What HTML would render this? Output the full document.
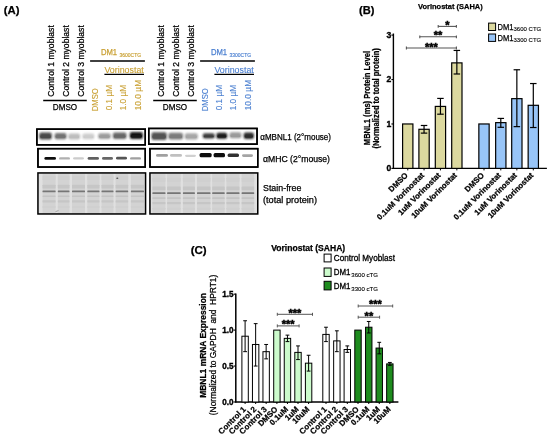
<!DOCTYPE html>
<html><head><meta charset="utf-8"><style>
html,body{margin:0;padding:0;background:#fff;width:550px;height:438px;overflow:hidden}
svg{display:block;font-family:'Liberation Sans', Arial, sans-serif}
</style></head><body>
<svg width="550" height="438" viewBox="0 0 550 438">
<defs>
<filter id="b1" x="-50%" y="-50%" width="200%" height="200%"><feGaussianBlur stdDeviation="0.75"/></filter>
<filter id="b2" x="-50%" y="-50%" width="200%" height="200%"><feGaussianBlur stdDeviation="0.5"/></filter>
<filter id="b3" x="-50%" y="-50%" width="200%" height="200%"><feGaussianBlur stdDeviation="0.6"/></filter>
<filter id="b4" x="-50%" y="-50%" width="200%" height="200%"><feGaussianBlur stdDeviation="1.1"/></filter>
</defs>
<rect width="550" height="438" fill="#fff"/>
<text x="3.80" y="14.20" font-size="11.8" font-weight="bold" fill="#000" color="#000" textLength="15.80" lengthAdjust="spacingAndGlyphs" stroke="currentColor" stroke-width="0.25">(A)</text>
<text x="0.00" y="0.00" transform="translate(53.80,96.80) rotate(-90)" font-size="9" fill="#000" color="#000" textLength="71.60" lengthAdjust="spacingAndGlyphs" stroke="currentColor" stroke-width="0.25">Control 1 myoblast</text>
<text x="0.00" y="0.00" transform="translate(68.80,96.80) rotate(-90)" font-size="9" fill="#000" color="#000" textLength="71.60" lengthAdjust="spacingAndGlyphs" stroke="currentColor" stroke-width="0.25">Control 2 myoblast</text>
<text x="0.00" y="0.00" transform="translate(83.70,96.80) rotate(-90)" font-size="9" fill="#000" color="#000" textLength="71.60" lengthAdjust="spacingAndGlyphs" stroke="currentColor" stroke-width="0.25">Control 3 myoblast</text>
<line x1="43.20" y1="100.50" x2="86.80" y2="100.50" stroke="#000" stroke-width="1.4"/>
<text x="52.80" y="110.00" font-size="9" fill="#000" color="#000" textLength="24.40" lengthAdjust="spacingAndGlyphs" stroke="currentColor" stroke-width="0.25">DMSO</text>
<text x="100.90" y="55.30" font-size="9.6" fill="#c9a033" color="#c9a033" textLength="16.20" lengthAdjust="spacingAndGlyphs" stroke="currentColor" stroke-width="0.25">DM1</text>
<text x="119.40" y="57.20" font-size="5.2" fill="#c9a033" color="#c9a033" textLength="21.80" lengthAdjust="spacingAndGlyphs" stroke="currentColor" stroke-width="0.15">3600CTG</text>
<line x1="90.10" y1="61.00" x2="144.90" y2="61.00" stroke="#000" stroke-width="1.4"/>
<text x="104.40" y="72.50" font-size="9.0" fill="#c9a033" color="#c9a033" textLength="39.40" lengthAdjust="spacingAndGlyphs" stroke="currentColor" stroke-width="0.12">Vorinostat</text>
<line x1="104.40" y1="74.40" x2="144.00" y2="74.40" stroke="#000" stroke-width="1.3"/>
<text x="0.00" y="0.00" transform="translate(98.20,111.30) rotate(-90)" font-size="9.3" fill="#c9a033" color="#c9a033" textLength="23.10" lengthAdjust="spacingAndGlyphs" stroke="currentColor" stroke-width="0.12">DMSO</text>
<text x="0.00" y="0.00" transform="translate(111.60,110.30) rotate(-90)" font-size="9" fill="#c9a033" color="#c9a033" textLength="25.40" lengthAdjust="spacingAndGlyphs" stroke="currentColor" stroke-width="0.12">0.1 µM</text>
<text x="0.00" y="0.00" transform="translate(126.10,110.30) rotate(-90)" font-size="9" fill="#c9a033" color="#c9a033" textLength="25.40" lengthAdjust="spacingAndGlyphs" stroke="currentColor" stroke-width="0.12">1.0 µM</text>
<text x="0.00" y="0.00" transform="translate(140.70,110.30) rotate(-90)" font-size="9" fill="#c9a033" color="#c9a033" textLength="30.50" lengthAdjust="spacingAndGlyphs" stroke="currentColor" stroke-width="0.12">10.0 µM</text>
<text x="0.00" y="0.00" transform="translate(163.80,96.80) rotate(-90)" font-size="9" fill="#000" color="#000" textLength="71.60" lengthAdjust="spacingAndGlyphs" stroke="currentColor" stroke-width="0.25">Control 1 myoblast</text>
<text x="0.00" y="0.00" transform="translate(178.80,96.80) rotate(-90)" font-size="9" fill="#000" color="#000" textLength="71.60" lengthAdjust="spacingAndGlyphs" stroke="currentColor" stroke-width="0.25">Control 2 myoblast</text>
<text x="0.00" y="0.00" transform="translate(193.70,96.80) rotate(-90)" font-size="9" fill="#000" color="#000" textLength="71.60" lengthAdjust="spacingAndGlyphs" stroke="currentColor" stroke-width="0.25">Control 3 myoblast</text>
<line x1="153.20" y1="100.50" x2="196.80" y2="100.50" stroke="#000" stroke-width="1.4"/>
<text x="162.80" y="110.00" font-size="9" fill="#000" color="#000" textLength="24.40" lengthAdjust="spacingAndGlyphs" stroke="currentColor" stroke-width="0.25">DMSO</text>
<text x="210.90" y="55.30" font-size="9.6" fill="#4a7fd0" color="#4a7fd0" textLength="16.20" lengthAdjust="spacingAndGlyphs" stroke="currentColor" stroke-width="0.25">DM1</text>
<text x="229.40" y="57.20" font-size="5.2" fill="#4a7fd0" color="#4a7fd0" textLength="21.80" lengthAdjust="spacingAndGlyphs" stroke="currentColor" stroke-width="0.15">3300CTG</text>
<line x1="200.10" y1="61.00" x2="254.90" y2="61.00" stroke="#000" stroke-width="1.4"/>
<text x="214.40" y="72.50" font-size="9.0" fill="#4a7fd0" color="#4a7fd0" textLength="39.40" lengthAdjust="spacingAndGlyphs" stroke="currentColor" stroke-width="0.12">Vorinostat</text>
<line x1="214.40" y1="74.40" x2="254.00" y2="74.40" stroke="#000" stroke-width="1.3"/>
<text x="0.00" y="0.00" transform="translate(208.20,111.30) rotate(-90)" font-size="9.3" fill="#4a7fd0" color="#4a7fd0" textLength="23.10" lengthAdjust="spacingAndGlyphs" stroke="currentColor" stroke-width="0.12">DMSO</text>
<text x="0.00" y="0.00" transform="translate(221.60,110.30) rotate(-90)" font-size="9" fill="#4a7fd0" color="#4a7fd0" textLength="25.40" lengthAdjust="spacingAndGlyphs" stroke="currentColor" stroke-width="0.12">0.1 µM</text>
<text x="0.00" y="0.00" transform="translate(236.10,110.30) rotate(-90)" font-size="9" fill="#4a7fd0" color="#4a7fd0" textLength="25.40" lengthAdjust="spacingAndGlyphs" stroke="currentColor" stroke-width="0.12">1.0 µM</text>
<text x="0.00" y="0.00" transform="translate(250.70,110.30) rotate(-90)" font-size="9" fill="#4a7fd0" color="#4a7fd0" textLength="30.50" lengthAdjust="spacingAndGlyphs" stroke="currentColor" stroke-width="0.12">10.0 µM</text>
<rect x="36.85" y="129.15" width="108.40" height="15.70" fill="#fff" stroke="#000" stroke-width="1.5"/>
<rect x="148.75" y="128.45" width="108.30" height="15.70" fill="#fff" stroke="#000" stroke-width="1.5"/>
<rect x="37.95" y="148.65" width="107.30" height="18.40" fill="#fff" stroke="#000" stroke-width="1.5"/>
<rect x="149.95" y="148.65" width="107.80" height="18.40" fill="#fff" stroke="#000" stroke-width="1.5"/>
<rect x="39.30" y="132.60" width="12.50" height="7.00" rx="2" fill="#4a4a4a" filter="url(#b4)"/>
<rect x="40.30" y="135.32" width="10.50" height="2.76" rx="1" fill="#4a4a4a" filter="url(#b1)"/>
<rect x="54.60" y="133.00" width="11.90" height="6.20" rx="2" fill="#727272" filter="url(#b4)"/>
<rect x="55.60" y="135.56" width="9.90" height="2.28" rx="1" fill="#727272" filter="url(#b1)"/>
<rect x="68.20" y="133.40" width="11.90" height="6.00" rx="2" fill="#bdbdbd" filter="url(#b4)"/>
<rect x="69.20" y="135.92" width="9.90" height="2.16" rx="1" fill="#bdbdbd" filter="url(#b1)"/>
<rect x="82.40" y="133.50" width="11.90" height="5.80" rx="2" fill="#cdcdcd" filter="url(#b4)"/>
<rect x="83.40" y="135.98" width="9.90" height="2.04" rx="1" fill="#cdcdcd" filter="url(#b1)"/>
<rect x="98.20" y="133.20" width="12.50" height="5.80" rx="2" fill="#9c9c9c" filter="url(#b4)"/>
<rect x="99.20" y="135.68" width="10.50" height="2.04" rx="1" fill="#9c9c9c" filter="url(#b1)"/>
<rect x="112.90" y="132.60" width="13.60" height="6.40" rx="2" fill="#686868" filter="url(#b4)"/>
<rect x="113.90" y="135.20" width="11.60" height="2.40" rx="1" fill="#686868" filter="url(#b1)"/>
<rect x="129.80" y="132.10" width="13.00" height="6.80" rx="2" fill="#141414" filter="url(#b4)"/>
<rect x="130.80" y="134.78" width="11.00" height="2.64" rx="1" fill="#141414" filter="url(#b1)"/>
<rect x="151.50" y="132.30" width="15.20" height="7.60" rx="2" fill="#525252" filter="url(#b4)"/>
<rect x="152.50" y="135.14" width="13.20" height="3.12" rx="1" fill="#525252" filter="url(#b1)"/>
<rect x="168.40" y="132.80" width="14.60" height="6.60" rx="2" fill="#7c7c7c" filter="url(#b4)"/>
<rect x="169.40" y="135.44" width="12.60" height="2.52" rx="1" fill="#7c7c7c" filter="url(#b1)"/>
<rect x="184.80" y="133.20" width="13.00" height="6.20" rx="2" fill="#a6a6a6" filter="url(#b4)"/>
<rect x="185.80" y="135.76" width="11.00" height="2.28" rx="1" fill="#a6a6a6" filter="url(#b1)"/>
<rect x="202.80" y="133.30" width="11.90" height="5.20" rx="2" fill="#3c3c3c" filter="url(#b4)"/>
<rect x="203.80" y="135.66" width="9.90" height="1.68" rx="1" fill="#3c3c3c" filter="url(#b1)"/>
<rect x="216.40" y="132.80" width="10.80" height="6.00" rx="2" fill="#1e1e1e" filter="url(#b4)"/>
<rect x="217.40" y="135.32" width="8.80" height="2.16" rx="1" fill="#1e1e1e" filter="url(#b1)"/>
<rect x="229.50" y="132.30" width="11.90" height="6.00" rx="2" fill="#9a9a9a" filter="url(#b4)"/>
<rect x="230.50" y="134.82" width="9.90" height="2.16" rx="1" fill="#9a9a9a" filter="url(#b1)"/>
<rect x="243.70" y="132.60" width="10.20" height="6.40" rx="2" fill="#2c2c2c" filter="url(#b4)"/>
<rect x="244.70" y="135.20" width="8.20" height="2.40" rx="1" fill="#2c2c2c" filter="url(#b1)"/>
<rect x="44.40" y="157.00" width="11.60" height="2.80" rx="1.5" fill="#0a0a0a" filter="url(#b3)"/>
<rect x="59.00" y="157.20" width="11.00" height="2.40" rx="1.5" fill="#b0b0b0" filter="url(#b3)"/>
<rect x="73.00" y="157.30" width="11.00" height="2.20" rx="1.5" fill="#cccccc" filter="url(#b3)"/>
<rect x="87.60" y="157.00" width="11.40" height="2.80" rx="1.5" fill="#606060" filter="url(#b3)"/>
<rect x="102.00" y="157.00" width="11.00" height="2.80" rx="1.5" fill="#666" filter="url(#b3)"/>
<rect x="116.00" y="156.80" width="11.00" height="2.80" rx="1.5" fill="#555" filter="url(#b3)"/>
<rect x="130.00" y="157.20" width="11.00" height="2.40" rx="1.5" fill="#a0a0a0" filter="url(#b3)"/>
<rect x="156.00" y="154.00" width="12.00" height="2.80" rx="1.5" fill="#a0a0a0" filter="url(#b3)"/>
<rect x="170.00" y="154.10" width="12.00" height="2.60" rx="1.5" fill="#c0c0c0" filter="url(#b3)"/>
<rect x="185.00" y="154.70" width="11.00" height="2.20" rx="1.5" fill="#d0d0d0" filter="url(#b3)"/>
<rect x="199.60" y="153.10" width="12.00" height="4.20" rx="1.5" fill="#0a0a0a" filter="url(#b3)"/>
<rect x="213.60" y="153.10" width="11.40" height="4.20" rx="1.5" fill="#101010" filter="url(#b3)"/>
<rect x="227.60" y="153.40" width="11.40" height="3.60" rx="1.5" fill="#333" filter="url(#b3)"/>
<rect x="242.00" y="154.30" width="11.00" height="2.60" rx="1.5" fill="#a4a4a4" filter="url(#b3)"/>
<rect x="36.85" y="129.15" width="108.40" height="15.70" fill="none" stroke="#000" stroke-width="1.5"/>
<rect x="148.75" y="128.45" width="108.30" height="15.70" fill="none" stroke="#000" stroke-width="1.5"/>
<rect x="37.95" y="148.65" width="107.30" height="18.40" fill="none" stroke="#000" stroke-width="1.5"/>
<rect x="149.95" y="148.65" width="107.80" height="18.40" fill="none" stroke="#000" stroke-width="1.5"/>
<rect x="37.20" y="172.20" width="109.10" height="42.50" fill="#e0e0e0"/>
<rect x="42.50" y="173.70" width="13.10" height="39.50" fill="#d3d3d3" filter="url(#b2)"/>
<rect x="42.50" y="176.00" width="13.10" height="4.00" rx="0.5" fill="#d0d0d0" filter="url(#b1)"/>
<rect x="42.50" y="184.80" width="13.10" height="3.60" rx="0.5" fill="#c6c6c6" filter="url(#b1)"/>
<rect x="42.50" y="190.45" width="13.10" height="1.70" rx="0.5" fill="#767676" filter="url(#b2)"/>
<rect x="42.50" y="195.50" width="13.10" height="1.60" rx="0.5" fill="#c4c4c4" filter="url(#b2)"/>
<rect x="42.50" y="200.20" width="13.10" height="2.20" rx="0.5" fill="#c6c6c6" filter="url(#b1)"/>
<rect x="42.50" y="206.00" width="13.10" height="2.00" rx="0.5" fill="#d0d0d0" filter="url(#b1)"/>
<rect x="57.80" y="173.70" width="11.70" height="39.50" fill="#d3d3d3" filter="url(#b2)"/>
<rect x="57.80" y="176.00" width="11.70" height="4.00" rx="0.5" fill="#d0d0d0" filter="url(#b1)"/>
<rect x="57.80" y="184.80" width="11.70" height="3.60" rx="0.5" fill="#c6c6c6" filter="url(#b1)"/>
<rect x="57.80" y="190.45" width="11.70" height="1.70" rx="0.5" fill="#767676" filter="url(#b2)"/>
<rect x="57.80" y="195.50" width="11.70" height="1.60" rx="0.5" fill="#c4c4c4" filter="url(#b2)"/>
<rect x="57.80" y="200.20" width="11.70" height="2.20" rx="0.5" fill="#c6c6c6" filter="url(#b1)"/>
<rect x="57.80" y="206.00" width="11.70" height="2.00" rx="0.5" fill="#d0d0d0" filter="url(#b1)"/>
<rect x="72.00" y="173.70" width="13.00" height="39.50" fill="#d3d3d3" filter="url(#b2)"/>
<rect x="72.00" y="176.00" width="13.00" height="4.00" rx="0.5" fill="#d0d0d0" filter="url(#b1)"/>
<rect x="72.00" y="184.80" width="13.00" height="3.60" rx="0.5" fill="#c6c6c6" filter="url(#b1)"/>
<rect x="72.00" y="190.45" width="13.00" height="1.70" rx="0.5" fill="#767676" filter="url(#b2)"/>
<rect x="72.00" y="195.50" width="13.00" height="1.60" rx="0.5" fill="#c4c4c4" filter="url(#b2)"/>
<rect x="72.00" y="200.20" width="13.00" height="2.20" rx="0.5" fill="#c6c6c6" filter="url(#b1)"/>
<rect x="72.00" y="206.00" width="13.00" height="2.00" rx="0.5" fill="#d0d0d0" filter="url(#b1)"/>
<rect x="87.30" y="173.70" width="12.20" height="39.50" fill="#d3d3d3" filter="url(#b2)"/>
<rect x="87.30" y="176.00" width="12.20" height="4.00" rx="0.5" fill="#d0d0d0" filter="url(#b1)"/>
<rect x="87.30" y="184.80" width="12.20" height="3.60" rx="0.5" fill="#c6c6c6" filter="url(#b1)"/>
<rect x="87.30" y="190.45" width="12.20" height="1.70" rx="0.5" fill="#767676" filter="url(#b2)"/>
<rect x="87.30" y="195.50" width="12.20" height="1.60" rx="0.5" fill="#c4c4c4" filter="url(#b2)"/>
<rect x="87.30" y="200.20" width="12.20" height="2.20" rx="0.5" fill="#c6c6c6" filter="url(#b1)"/>
<rect x="87.30" y="206.00" width="12.20" height="2.00" rx="0.5" fill="#d0d0d0" filter="url(#b1)"/>
<rect x="101.50" y="173.70" width="12.00" height="39.50" fill="#d3d3d3" filter="url(#b2)"/>
<rect x="101.50" y="176.00" width="12.00" height="4.00" rx="0.5" fill="#d0d0d0" filter="url(#b1)"/>
<rect x="101.50" y="184.80" width="12.00" height="3.60" rx="0.5" fill="#c6c6c6" filter="url(#b1)"/>
<rect x="101.50" y="190.45" width="12.00" height="1.70" rx="0.5" fill="#767676" filter="url(#b2)"/>
<rect x="101.50" y="195.50" width="12.00" height="1.60" rx="0.5" fill="#c4c4c4" filter="url(#b2)"/>
<rect x="101.50" y="200.20" width="12.00" height="2.20" rx="0.5" fill="#c6c6c6" filter="url(#b1)"/>
<rect x="101.50" y="206.00" width="12.00" height="2.00" rx="0.5" fill="#d0d0d0" filter="url(#b1)"/>
<rect x="115.60" y="173.70" width="12.60" height="39.50" fill="#d3d3d3" filter="url(#b2)"/>
<rect x="115.60" y="176.00" width="12.60" height="4.00" rx="0.5" fill="#d0d0d0" filter="url(#b1)"/>
<rect x="115.60" y="184.80" width="12.60" height="3.60" rx="0.5" fill="#c6c6c6" filter="url(#b1)"/>
<rect x="115.60" y="190.45" width="12.60" height="1.70" rx="0.5" fill="#767676" filter="url(#b2)"/>
<rect x="115.60" y="195.50" width="12.60" height="1.60" rx="0.5" fill="#c4c4c4" filter="url(#b2)"/>
<rect x="115.60" y="200.20" width="12.60" height="2.20" rx="0.5" fill="#c6c6c6" filter="url(#b1)"/>
<rect x="115.60" y="206.00" width="12.60" height="2.00" rx="0.5" fill="#d0d0d0" filter="url(#b1)"/>
<rect x="130.90" y="173.70" width="13.10" height="39.50" fill="#d3d3d3" filter="url(#b2)"/>
<rect x="130.90" y="176.00" width="13.10" height="4.00" rx="0.5" fill="#d0d0d0" filter="url(#b1)"/>
<rect x="130.90" y="184.80" width="13.10" height="3.60" rx="0.5" fill="#c6c6c6" filter="url(#b1)"/>
<rect x="130.90" y="190.45" width="13.10" height="1.70" rx="0.5" fill="#767676" filter="url(#b2)"/>
<rect x="130.90" y="195.50" width="13.10" height="1.60" rx="0.5" fill="#c4c4c4" filter="url(#b2)"/>
<rect x="130.90" y="200.20" width="13.10" height="2.20" rx="0.5" fill="#c6c6c6" filter="url(#b1)"/>
<rect x="130.90" y="206.00" width="13.10" height="2.00" rx="0.5" fill="#d0d0d0" filter="url(#b1)"/>
<rect x="37.95" y="172.95" width="107.60" height="41.00" fill="none" stroke="#000" stroke-width="1.5"/>
<rect x="149.20" y="172.20" width="109.30" height="42.50" fill="#e0e0e0"/>
<rect x="152.40" y="173.70" width="13.10" height="39.50" fill="#d3d3d3" filter="url(#b2)"/>
<rect x="152.40" y="177.80" width="13.10" height="4.00" rx="0.5" fill="#d0d0d0" filter="url(#b1)"/>
<rect x="152.40" y="186.60" width="13.10" height="3.60" rx="0.5" fill="#c6c6c6" filter="url(#b1)"/>
<rect x="152.40" y="192.25" width="13.10" height="1.70" rx="0.5" fill="#767676" filter="url(#b2)"/>
<rect x="152.40" y="197.30" width="13.10" height="1.60" rx="0.5" fill="#c4c4c4" filter="url(#b2)"/>
<rect x="152.40" y="202.00" width="13.10" height="2.20" rx="0.5" fill="#c6c6c6" filter="url(#b1)"/>
<rect x="152.40" y="207.80" width="13.10" height="2.00" rx="0.5" fill="#d0d0d0" filter="url(#b1)"/>
<rect x="167.10" y="173.70" width="13.60" height="39.50" fill="#d3d3d3" filter="url(#b2)"/>
<rect x="167.10" y="177.80" width="13.60" height="4.00" rx="0.5" fill="#d0d0d0" filter="url(#b1)"/>
<rect x="167.10" y="186.60" width="13.60" height="3.60" rx="0.5" fill="#c6c6c6" filter="url(#b1)"/>
<rect x="167.10" y="192.25" width="13.60" height="1.70" rx="0.5" fill="#767676" filter="url(#b2)"/>
<rect x="167.10" y="197.30" width="13.60" height="1.60" rx="0.5" fill="#c4c4c4" filter="url(#b2)"/>
<rect x="167.10" y="202.00" width="13.60" height="2.20" rx="0.5" fill="#c6c6c6" filter="url(#b1)"/>
<rect x="167.10" y="207.80" width="13.60" height="2.00" rx="0.5" fill="#d0d0d0" filter="url(#b1)"/>
<rect x="182.90" y="173.70" width="12.00" height="39.50" fill="#d3d3d3" filter="url(#b2)"/>
<rect x="182.90" y="177.80" width="12.00" height="4.00" rx="0.5" fill="#d0d0d0" filter="url(#b1)"/>
<rect x="182.90" y="186.60" width="12.00" height="3.60" rx="0.5" fill="#c6c6c6" filter="url(#b1)"/>
<rect x="182.90" y="192.25" width="12.00" height="1.70" rx="0.5" fill="#767676" filter="url(#b2)"/>
<rect x="182.90" y="197.30" width="12.00" height="1.60" rx="0.5" fill="#c4c4c4" filter="url(#b2)"/>
<rect x="182.90" y="202.00" width="12.00" height="2.20" rx="0.5" fill="#c6c6c6" filter="url(#b1)"/>
<rect x="182.90" y="207.80" width="12.00" height="2.00" rx="0.5" fill="#d0d0d0" filter="url(#b1)"/>
<rect x="197.00" y="173.70" width="13.50" height="39.50" fill="#d3d3d3" filter="url(#b2)"/>
<rect x="197.00" y="177.80" width="13.50" height="4.00" rx="0.5" fill="#d0d0d0" filter="url(#b1)"/>
<rect x="197.00" y="186.60" width="13.50" height="3.60" rx="0.5" fill="#c6c6c6" filter="url(#b1)"/>
<rect x="197.00" y="192.25" width="13.50" height="1.70" rx="0.5" fill="#767676" filter="url(#b2)"/>
<rect x="197.00" y="197.30" width="13.50" height="1.60" rx="0.5" fill="#c4c4c4" filter="url(#b2)"/>
<rect x="197.00" y="202.00" width="13.50" height="2.20" rx="0.5" fill="#c6c6c6" filter="url(#b1)"/>
<rect x="197.00" y="207.80" width="13.50" height="2.00" rx="0.5" fill="#d0d0d0" filter="url(#b1)"/>
<rect x="212.20" y="173.70" width="12.50" height="39.50" fill="#d3d3d3" filter="url(#b2)"/>
<rect x="212.20" y="177.80" width="12.50" height="4.00" rx="0.5" fill="#d0d0d0" filter="url(#b1)"/>
<rect x="212.20" y="186.60" width="12.50" height="3.60" rx="0.5" fill="#c6c6c6" filter="url(#b1)"/>
<rect x="212.20" y="192.25" width="12.50" height="1.70" rx="0.5" fill="#767676" filter="url(#b2)"/>
<rect x="212.20" y="197.30" width="12.50" height="1.60" rx="0.5" fill="#c4c4c4" filter="url(#b2)"/>
<rect x="212.20" y="202.00" width="12.50" height="2.20" rx="0.5" fill="#c6c6c6" filter="url(#b1)"/>
<rect x="212.20" y="207.80" width="12.50" height="2.00" rx="0.5" fill="#d0d0d0" filter="url(#b1)"/>
<rect x="226.40" y="173.70" width="13.10" height="39.50" fill="#d3d3d3" filter="url(#b2)"/>
<rect x="226.40" y="177.80" width="13.10" height="4.00" rx="0.5" fill="#d0d0d0" filter="url(#b1)"/>
<rect x="226.40" y="186.60" width="13.10" height="3.60" rx="0.5" fill="#c6c6c6" filter="url(#b1)"/>
<rect x="226.40" y="192.25" width="13.10" height="1.70" rx="0.5" fill="#767676" filter="url(#b2)"/>
<rect x="226.40" y="197.30" width="13.10" height="1.60" rx="0.5" fill="#c4c4c4" filter="url(#b2)"/>
<rect x="226.40" y="202.00" width="13.10" height="2.20" rx="0.5" fill="#c6c6c6" filter="url(#b1)"/>
<rect x="226.40" y="207.80" width="13.10" height="2.00" rx="0.5" fill="#d0d0d0" filter="url(#b1)"/>
<rect x="241.60" y="173.70" width="12.60" height="39.50" fill="#d3d3d3" filter="url(#b2)"/>
<rect x="241.60" y="177.80" width="12.60" height="4.00" rx="0.5" fill="#d0d0d0" filter="url(#b1)"/>
<rect x="241.60" y="186.60" width="12.60" height="3.60" rx="0.5" fill="#c6c6c6" filter="url(#b1)"/>
<rect x="241.60" y="192.25" width="12.60" height="1.70" rx="0.5" fill="#767676" filter="url(#b2)"/>
<rect x="241.60" y="197.30" width="12.60" height="1.60" rx="0.5" fill="#c4c4c4" filter="url(#b2)"/>
<rect x="241.60" y="202.00" width="12.60" height="2.20" rx="0.5" fill="#c6c6c6" filter="url(#b1)"/>
<rect x="241.60" y="207.80" width="12.60" height="2.00" rx="0.5" fill="#d0d0d0" filter="url(#b1)"/>
<rect x="149.95" y="172.95" width="107.80" height="41.00" fill="none" stroke="#000" stroke-width="1.5"/>
<ellipse cx="117.3" cy="178.3" rx="1.1" ry="0.7" fill="#555" filter="url(#b2)"/>
<line x1="55.5" y1="211.6" x2="58.5" y2="210.6" stroke="#888" stroke-width="0.7"/>
<text x="260.30" y="140.00" font-size="8.4" fill="#000" color="#000" textLength="70.70" lengthAdjust="spacingAndGlyphs" stroke="currentColor" stroke-width="0.25">αMBNL1 (2°mouse)</text>
<text x="263.00" y="162.40" font-size="8.4" fill="#000" color="#000" textLength="67.00" lengthAdjust="spacingAndGlyphs" stroke="currentColor" stroke-width="0.25">αMHC (2°mouse)</text>
<text x="263.00" y="191.00" font-size="8.6" fill="#000" color="#000" textLength="38.40" lengthAdjust="spacingAndGlyphs" stroke="currentColor" stroke-width="0.25">Stain-free</text>
<text x="263.00" y="202.50" font-size="8.6" fill="#000" color="#000" textLength="54.00" lengthAdjust="spacingAndGlyphs" stroke="currentColor" stroke-width="0.25">(total protein)</text>
<text x="359.00" y="14.20" font-size="11.5" font-weight="bold" fill="#000" color="#000" textLength="15.40" lengthAdjust="spacingAndGlyphs" stroke="currentColor" stroke-width="0.25">(B)</text>
<text x="418.00" y="9.40" font-size="8.0" font-weight="bold" fill="#000" color="#000" textLength="64.70" lengthAdjust="spacingAndGlyphs" stroke="currentColor" stroke-width="0.25">Vorinostat (SAHA)</text>
<line x1="393.40" y1="33.50" x2="393.40" y2="169.00" stroke="#000" stroke-width="1.4"/>
<line x1="392.80" y1="168.40" x2="546.90" y2="168.40" stroke="#000" stroke-width="1.4"/>
<line x1="391.40" y1="168.40" x2="393.40" y2="168.40" stroke="#000" stroke-width="1.1"/>
<text x="391.30" y="171.30" font-size="8.6" font-weight="bold" fill="#000" color="#000" text-anchor="end" stroke="#000" stroke-width="0.35">0</text>
<line x1="391.40" y1="123.97" x2="393.40" y2="123.97" stroke="#000" stroke-width="1.1"/>
<text x="391.30" y="126.87" font-size="8.6" font-weight="bold" fill="#000" color="#000" text-anchor="end" stroke="#000" stroke-width="0.35">1</text>
<line x1="391.40" y1="79.54" x2="393.40" y2="79.54" stroke="#000" stroke-width="1.1"/>
<text x="391.30" y="82.44" font-size="8.6" font-weight="bold" fill="#000" color="#000" text-anchor="end" stroke="#000" stroke-width="0.35">2</text>
<line x1="391.40" y1="35.11" x2="393.40" y2="35.11" stroke="#000" stroke-width="1.1"/>
<text x="391.30" y="38.01" font-size="8.6" font-weight="bold" fill="#000" color="#000" text-anchor="end" stroke="#000" stroke-width="0.35">3</text>
<rect x="402.60" y="123.97" width="10.30" height="44.43" fill="#dcd99f" stroke="#000" stroke-width="1.2"/>
<line x1="407.75" y1="168.40" x2="407.75" y2="170.40" stroke="#000" stroke-width="1.0"/>
<rect x="418.90" y="129.30" width="10.30" height="39.10" fill="#dcd99f" stroke="#000" stroke-width="1.2"/>
<line x1="424.05" y1="125.48" x2="424.05" y2="133.12" stroke="#000" stroke-width="1.2"/>
<line x1="420.80" y1="125.48" x2="427.30" y2="125.48" stroke="#000" stroke-width="1.2"/>
<line x1="420.80" y1="133.12" x2="427.30" y2="133.12" stroke="#000" stroke-width="1.2"/>
<line x1="424.05" y1="168.40" x2="424.05" y2="170.40" stroke="#000" stroke-width="1.0"/>
<rect x="435.30" y="106.42" width="10.30" height="61.98" fill="#dcd99f" stroke="#000" stroke-width="1.2"/>
<line x1="440.45" y1="98.42" x2="440.45" y2="114.20" stroke="#000" stroke-width="1.2"/>
<line x1="437.20" y1="98.42" x2="443.70" y2="98.42" stroke="#000" stroke-width="1.2"/>
<line x1="437.20" y1="114.20" x2="443.70" y2="114.20" stroke="#000" stroke-width="1.2"/>
<line x1="440.45" y1="168.40" x2="440.45" y2="170.40" stroke="#000" stroke-width="1.0"/>
<rect x="451.70" y="62.88" width="10.30" height="105.52" fill="#dcd99f" stroke="#000" stroke-width="1.2"/>
<line x1="456.85" y1="50.44" x2="456.85" y2="73.99" stroke="#000" stroke-width="1.2"/>
<line x1="453.60" y1="50.44" x2="460.10" y2="50.44" stroke="#000" stroke-width="1.2"/>
<line x1="453.60" y1="73.99" x2="460.10" y2="73.99" stroke="#000" stroke-width="1.2"/>
<line x1="456.85" y1="168.40" x2="456.85" y2="170.40" stroke="#000" stroke-width="1.0"/>
<rect x="478.85" y="123.97" width="10.30" height="44.43" fill="#98c5f8" stroke="#000" stroke-width="1.2"/>
<line x1="484.00" y1="168.40" x2="484.00" y2="170.40" stroke="#000" stroke-width="1.0"/>
<rect x="495.65" y="122.64" width="10.30" height="45.76" fill="#98c5f8" stroke="#000" stroke-width="1.2"/>
<line x1="500.80" y1="118.42" x2="500.80" y2="127.30" stroke="#000" stroke-width="1.2"/>
<line x1="497.55" y1="118.42" x2="504.05" y2="118.42" stroke="#000" stroke-width="1.2"/>
<line x1="497.55" y1="127.30" x2="504.05" y2="127.30" stroke="#000" stroke-width="1.2"/>
<line x1="500.80" y1="168.40" x2="500.80" y2="170.40" stroke="#000" stroke-width="1.0"/>
<rect x="511.70" y="98.64" width="10.30" height="69.76" fill="#98c5f8" stroke="#000" stroke-width="1.2"/>
<line x1="516.85" y1="69.77" x2="516.85" y2="126.64" stroke="#000" stroke-width="1.2"/>
<line x1="513.60" y1="69.77" x2="520.10" y2="69.77" stroke="#000" stroke-width="1.2"/>
<line x1="513.60" y1="126.64" x2="520.10" y2="126.64" stroke="#000" stroke-width="1.2"/>
<line x1="516.85" y1="168.40" x2="516.85" y2="170.40" stroke="#000" stroke-width="1.0"/>
<rect x="528.15" y="105.31" width="10.30" height="63.09" fill="#98c5f8" stroke="#000" stroke-width="1.2"/>
<line x1="533.30" y1="83.54" x2="533.30" y2="127.52" stroke="#000" stroke-width="1.2"/>
<line x1="530.05" y1="83.54" x2="536.55" y2="83.54" stroke="#000" stroke-width="1.2"/>
<line x1="530.05" y1="127.52" x2="536.55" y2="127.52" stroke="#000" stroke-width="1.2"/>
<line x1="533.30" y1="168.40" x2="533.30" y2="170.40" stroke="#000" stroke-width="1.0"/>
<line x1="438.20" y1="26.40" x2="456.40" y2="26.40" stroke="#555" stroke-width="1.1"/>
<line x1="438.20" y1="25.00" x2="438.20" y2="27.80" stroke="#555" stroke-width="1.1"/>
<line x1="456.40" y1="25.00" x2="456.40" y2="27.80" stroke="#555" stroke-width="1.1"/>
<text x="447.30" y="29.30" font-size="11" font-weight="bold" fill="#000" color="#000" text-anchor="middle" stroke="#000" stroke-width="0.5">*</text>
<line x1="419.80" y1="36.80" x2="456.40" y2="36.80" stroke="#555" stroke-width="1.1"/>
<line x1="419.80" y1="35.40" x2="419.80" y2="38.20" stroke="#555" stroke-width="1.1"/>
<line x1="456.40" y1="35.40" x2="456.40" y2="38.20" stroke="#555" stroke-width="1.1"/>
<text x="438.10" y="39.40" font-size="11" font-weight="bold" fill="#000" color="#000" text-anchor="middle" stroke="#000" stroke-width="0.5">**</text>
<line x1="406.40" y1="48.00" x2="456.40" y2="48.00" stroke="#555" stroke-width="1.1"/>
<line x1="406.40" y1="46.60" x2="406.40" y2="49.40" stroke="#555" stroke-width="1.1"/>
<line x1="456.40" y1="46.60" x2="456.40" y2="49.40" stroke="#555" stroke-width="1.1"/>
<text x="431.40" y="50.80" font-size="11" font-weight="bold" fill="#000" color="#000" text-anchor="middle" stroke="#000" stroke-width="0.5">***</text>
<rect x="488.60" y="23.10" width="7.00" height="7.40" fill="#dcd99f" stroke="#000" stroke-width="1.0"/>
<rect x="488.60" y="34.00" width="7.00" height="7.40" fill="#98c5f8" stroke="#000" stroke-width="1.0"/>
<text x="497.60" y="29.60" font-size="9.2" fill="#000" color="#000" textLength="15.90" lengthAdjust="spacingAndGlyphs" stroke="currentColor" stroke-width="0.25">DM1</text>
<text x="513.50" y="30.70" font-size="6.2" fill="#000" color="#000" textLength="27.80" lengthAdjust="spacingAndGlyphs" stroke="currentColor" stroke-width="0.12">3600 CTG</text>
<text x="497.60" y="40.90" font-size="9.2" fill="#000" color="#000" textLength="15.90" lengthAdjust="spacingAndGlyphs" stroke="currentColor" stroke-width="0.25">DM1</text>
<text x="513.50" y="42.00" font-size="6.2" fill="#000" color="#000" textLength="27.80" lengthAdjust="spacingAndGlyphs" stroke="currentColor" stroke-width="0.12">3300 CTG</text>
<text x="0.00" y="0.00" transform="translate(370.00,145.20) rotate(-90)" font-size="8.4" font-weight="bold" fill="#000" color="#000" textLength="94.20" lengthAdjust="spacingAndGlyphs" stroke="currentColor" stroke-width="0.25">MBNL1 (ms) Protein Level</text>
<text x="0.00" y="0.00" transform="translate(378.60,148.60) rotate(-90)" font-size="8.6" font-weight="bold" fill="#000" color="#000" textLength="100.40" lengthAdjust="spacingAndGlyphs" stroke="currentColor" stroke-width="0.25">(Normalized to total protein)</text>
<text x="0.00" y="0.00" transform="translate(408.35,175.80) rotate(-45)" font-size="7.9" font-weight="bold" fill="#000" color="#000" text-anchor="end" stroke="currentColor" stroke-width="0.25">DMSO</text>
<text x="0.00" y="0.00" transform="translate(424.65,175.80) rotate(-45)" font-size="7.9" font-weight="bold" fill="#000" color="#000" text-anchor="end" stroke="currentColor" stroke-width="0.25">0.1uM Vorinostat</text>
<text x="0.00" y="0.00" transform="translate(441.05,175.80) rotate(-45)" font-size="7.9" font-weight="bold" fill="#000" color="#000" text-anchor="end" stroke="currentColor" stroke-width="0.25">1uM Vorinostat</text>
<text x="0.00" y="0.00" transform="translate(457.45,175.80) rotate(-45)" font-size="7.9" font-weight="bold" fill="#000" color="#000" text-anchor="end" stroke="currentColor" stroke-width="0.25">10uM Vorinostat</text>
<text x="0.00" y="0.00" transform="translate(484.60,175.80) rotate(-45)" font-size="7.9" font-weight="bold" fill="#000" color="#000" text-anchor="end" stroke="currentColor" stroke-width="0.25">DMSO</text>
<text x="0.00" y="0.00" transform="translate(501.40,175.80) rotate(-45)" font-size="7.9" font-weight="bold" fill="#000" color="#000" text-anchor="end" stroke="currentColor" stroke-width="0.25">0.1uM Vorinostat</text>
<text x="0.00" y="0.00" transform="translate(517.45,175.80) rotate(-45)" font-size="7.9" font-weight="bold" fill="#000" color="#000" text-anchor="end" stroke="currentColor" stroke-width="0.25">1uM Vorinostat</text>
<text x="0.00" y="0.00" transform="translate(533.90,175.80) rotate(-45)" font-size="7.9" font-weight="bold" fill="#000" color="#000" text-anchor="end" stroke="currentColor" stroke-width="0.25">10uM Vorinostat</text>
<text x="190.70" y="254.00" font-size="11.5" font-weight="bold" fill="#000" color="#000" textLength="16.00" lengthAdjust="spacingAndGlyphs" stroke="currentColor" stroke-width="0.25">(C)</text>
<text x="271.20" y="250.60" font-size="8.6" font-weight="bold" fill="#000" color="#000" textLength="74.00" lengthAdjust="spacingAndGlyphs" stroke="currentColor" stroke-width="0.25">Vorinostat (SAHA)</text>
<line x1="235.80" y1="293.50" x2="235.80" y2="402.60" stroke="#000" stroke-width="1.5"/>
<line x1="235.20" y1="402.00" x2="398.40" y2="402.00" stroke="#000" stroke-width="1.5"/>
<line x1="233.60" y1="402.00" x2="235.80" y2="402.00" stroke="#000" stroke-width="1.1"/>
<text x="233.60" y="404.80" font-size="8.2" font-weight="bold" fill="#000" color="#000" text-anchor="end" textLength="11.30" lengthAdjust="spacingAndGlyphs" stroke="#000" stroke-width="0.35">0.0</text>
<line x1="233.60" y1="366.05" x2="235.80" y2="366.05" stroke="#000" stroke-width="1.1"/>
<text x="233.60" y="368.85" font-size="8.2" font-weight="bold" fill="#000" color="#000" text-anchor="end" textLength="11.30" lengthAdjust="spacingAndGlyphs" stroke="#000" stroke-width="0.35">0.5</text>
<line x1="233.60" y1="330.10" x2="235.80" y2="330.10" stroke="#000" stroke-width="1.1"/>
<text x="233.60" y="332.90" font-size="8.2" font-weight="bold" fill="#000" color="#000" text-anchor="end" textLength="11.30" lengthAdjust="spacingAndGlyphs" stroke="#000" stroke-width="0.35">1.0</text>
<line x1="233.60" y1="294.15" x2="235.80" y2="294.15" stroke="#000" stroke-width="1.1"/>
<text x="233.60" y="296.95" font-size="8.2" font-weight="bold" fill="#000" color="#000" text-anchor="end" textLength="11.30" lengthAdjust="spacingAndGlyphs" stroke="#000" stroke-width="0.35">1.5</text>
<rect x="241.90" y="336.21" width="6.40" height="65.79" fill="#fff" stroke="#000" stroke-width="1.0"/>
<line x1="245.10" y1="320.75" x2="245.10" y2="351.67" stroke="#000" stroke-width="1.0"/>
<line x1="243.20" y1="320.75" x2="247.00" y2="320.75" stroke="#000" stroke-width="1.0"/>
<line x1="243.20" y1="351.67" x2="247.00" y2="351.67" stroke="#000" stroke-width="1.0"/>
<line x1="245.10" y1="402.00" x2="245.10" y2="404.00" stroke="#000" stroke-width="1.0"/>
<rect x="252.45" y="344.48" width="6.40" height="57.52" fill="#fff" stroke="#000" stroke-width="1.0"/>
<line x1="255.65" y1="323.63" x2="255.65" y2="366.05" stroke="#000" stroke-width="1.0"/>
<line x1="253.75" y1="323.63" x2="257.55" y2="323.63" stroke="#000" stroke-width="1.0"/>
<line x1="253.75" y1="366.05" x2="257.55" y2="366.05" stroke="#000" stroke-width="1.0"/>
<line x1="255.65" y1="402.00" x2="255.65" y2="404.00" stroke="#000" stroke-width="1.0"/>
<rect x="262.95" y="351.67" width="6.40" height="50.33" fill="#fff" stroke="#000" stroke-width="1.0"/>
<line x1="266.15" y1="344.48" x2="266.15" y2="358.86" stroke="#000" stroke-width="1.0"/>
<line x1="264.25" y1="344.48" x2="268.05" y2="344.48" stroke="#000" stroke-width="1.0"/>
<line x1="264.25" y1="358.86" x2="268.05" y2="358.86" stroke="#000" stroke-width="1.0"/>
<line x1="266.15" y1="402.00" x2="266.15" y2="404.00" stroke="#000" stroke-width="1.0"/>
<rect x="273.70" y="330.10" width="6.40" height="71.90" fill="#ccfbcc" stroke="#000" stroke-width="1.0"/>
<line x1="276.90" y1="402.00" x2="276.90" y2="404.00" stroke="#000" stroke-width="1.0"/>
<rect x="284.25" y="338.37" width="6.40" height="63.63" fill="#ccfbcc" stroke="#000" stroke-width="1.0"/>
<line x1="287.45" y1="335.13" x2="287.45" y2="341.60" stroke="#000" stroke-width="1.0"/>
<line x1="285.55" y1="335.13" x2="289.35" y2="335.13" stroke="#000" stroke-width="1.0"/>
<line x1="285.55" y1="341.60" x2="289.35" y2="341.60" stroke="#000" stroke-width="1.0"/>
<line x1="287.45" y1="402.00" x2="287.45" y2="404.00" stroke="#000" stroke-width="1.0"/>
<rect x="294.80" y="352.39" width="6.40" height="49.61" fill="#ccfbcc" stroke="#000" stroke-width="1.0"/>
<line x1="298.00" y1="345.92" x2="298.00" y2="359.58" stroke="#000" stroke-width="1.0"/>
<line x1="296.10" y1="345.92" x2="299.90" y2="345.92" stroke="#000" stroke-width="1.0"/>
<line x1="296.10" y1="359.58" x2="299.90" y2="359.58" stroke="#000" stroke-width="1.0"/>
<line x1="298.00" y1="402.00" x2="298.00" y2="404.00" stroke="#000" stroke-width="1.0"/>
<rect x="305.40" y="363.17" width="6.40" height="38.83" fill="#ccfbcc" stroke="#000" stroke-width="1.0"/>
<line x1="308.60" y1="355.26" x2="308.60" y2="371.08" stroke="#000" stroke-width="1.0"/>
<line x1="306.70" y1="355.26" x2="310.50" y2="355.26" stroke="#000" stroke-width="1.0"/>
<line x1="306.70" y1="371.08" x2="310.50" y2="371.08" stroke="#000" stroke-width="1.0"/>
<line x1="308.60" y1="402.00" x2="308.60" y2="404.00" stroke="#000" stroke-width="1.0"/>
<rect x="322.80" y="334.41" width="6.40" height="67.59" fill="#fff" stroke="#000" stroke-width="1.0"/>
<line x1="326.00" y1="327.22" x2="326.00" y2="341.60" stroke="#000" stroke-width="1.0"/>
<line x1="324.10" y1="327.22" x2="327.90" y2="327.22" stroke="#000" stroke-width="1.0"/>
<line x1="324.10" y1="341.60" x2="327.90" y2="341.60" stroke="#000" stroke-width="1.0"/>
<line x1="326.00" y1="402.00" x2="326.00" y2="404.00" stroke="#000" stroke-width="1.0"/>
<rect x="333.65" y="340.88" width="6.40" height="61.12" fill="#fff" stroke="#000" stroke-width="1.0"/>
<line x1="336.85" y1="330.82" x2="336.85" y2="351.67" stroke="#000" stroke-width="1.0"/>
<line x1="334.95" y1="330.82" x2="338.75" y2="330.82" stroke="#000" stroke-width="1.0"/>
<line x1="334.95" y1="351.67" x2="338.75" y2="351.67" stroke="#000" stroke-width="1.0"/>
<line x1="336.85" y1="402.00" x2="336.85" y2="404.00" stroke="#000" stroke-width="1.0"/>
<rect x="344.10" y="349.51" width="6.40" height="52.49" fill="#fff" stroke="#000" stroke-width="1.0"/>
<line x1="347.30" y1="345.92" x2="347.30" y2="352.39" stroke="#000" stroke-width="1.0"/>
<line x1="345.40" y1="345.92" x2="349.20" y2="345.92" stroke="#000" stroke-width="1.0"/>
<line x1="345.40" y1="352.39" x2="349.20" y2="352.39" stroke="#000" stroke-width="1.0"/>
<line x1="347.30" y1="402.00" x2="347.30" y2="404.00" stroke="#000" stroke-width="1.0"/>
<rect x="354.80" y="330.10" width="6.40" height="71.90" fill="#1e8c1e" stroke="#000" stroke-width="1.0"/>
<line x1="358.00" y1="402.00" x2="358.00" y2="404.00" stroke="#000" stroke-width="1.0"/>
<rect x="365.55" y="327.22" width="6.40" height="74.78" fill="#1e8c1e" stroke="#000" stroke-width="1.0"/>
<line x1="368.75" y1="321.47" x2="368.75" y2="332.98" stroke="#000" stroke-width="1.0"/>
<line x1="366.85" y1="321.47" x2="370.65" y2="321.47" stroke="#000" stroke-width="1.0"/>
<line x1="366.85" y1="332.98" x2="370.65" y2="332.98" stroke="#000" stroke-width="1.0"/>
<line x1="368.75" y1="402.00" x2="368.75" y2="404.00" stroke="#000" stroke-width="1.0"/>
<rect x="376.05" y="348.07" width="6.40" height="53.93" fill="#1e8c1e" stroke="#000" stroke-width="1.0"/>
<line x1="379.25" y1="342.32" x2="379.25" y2="353.83" stroke="#000" stroke-width="1.0"/>
<line x1="377.35" y1="342.32" x2="381.15" y2="342.32" stroke="#000" stroke-width="1.0"/>
<line x1="377.35" y1="353.83" x2="381.15" y2="353.83" stroke="#000" stroke-width="1.0"/>
<line x1="379.25" y1="402.00" x2="379.25" y2="404.00" stroke="#000" stroke-width="1.0"/>
<rect x="386.65" y="363.89" width="6.40" height="38.11" fill="#1e8c1e" stroke="#000" stroke-width="1.0"/>
<line x1="389.85" y1="362.45" x2="389.85" y2="365.33" stroke="#000" stroke-width="1.0"/>
<line x1="387.95" y1="362.45" x2="391.75" y2="362.45" stroke="#000" stroke-width="1.0"/>
<line x1="387.95" y1="365.33" x2="391.75" y2="365.33" stroke="#000" stroke-width="1.0"/>
<line x1="389.85" y1="402.00" x2="389.85" y2="404.00" stroke="#000" stroke-width="1.0"/>
<line x1="277.30" y1="325.90" x2="299.10" y2="325.90" stroke="#555" stroke-width="1.0"/>
<line x1="277.30" y1="324.40" x2="277.30" y2="327.40" stroke="#555" stroke-width="1.0"/>
<line x1="299.10" y1="324.40" x2="299.10" y2="327.40" stroke="#555" stroke-width="1.0"/>
<text x="288.20" y="328.30" font-size="11" font-weight="bold" fill="#000" color="#000" text-anchor="middle" stroke="#000" stroke-width="0.5">***</text>
<line x1="277.30" y1="314.30" x2="312.50" y2="314.30" stroke="#555" stroke-width="1.0"/>
<line x1="277.30" y1="312.80" x2="277.30" y2="315.80" stroke="#555" stroke-width="1.0"/>
<line x1="312.50" y1="312.80" x2="312.50" y2="315.80" stroke="#555" stroke-width="1.0"/>
<text x="294.90" y="316.60" font-size="11" font-weight="bold" fill="#000" color="#000" text-anchor="middle" stroke="#000" stroke-width="0.5">***</text>
<line x1="358.20" y1="317.20" x2="379.60" y2="317.20" stroke="#555" stroke-width="1.0"/>
<line x1="358.20" y1="315.70" x2="358.20" y2="318.70" stroke="#555" stroke-width="1.0"/>
<line x1="379.60" y1="315.70" x2="379.60" y2="318.70" stroke="#555" stroke-width="1.0"/>
<text x="368.90" y="319.60" font-size="11" font-weight="bold" fill="#000" color="#000" text-anchor="middle" stroke="#000" stroke-width="0.5">**</text>
<line x1="358.20" y1="306.00" x2="392.70" y2="306.00" stroke="#555" stroke-width="1.0"/>
<line x1="358.20" y1="304.50" x2="358.20" y2="307.50" stroke="#555" stroke-width="1.0"/>
<line x1="392.70" y1="304.50" x2="392.70" y2="307.50" stroke="#555" stroke-width="1.0"/>
<text x="375.45" y="308.40" font-size="11" font-weight="bold" fill="#000" color="#000" text-anchor="middle" stroke="#000" stroke-width="0.5">***</text>
<rect x="324.10" y="254.10" width="7.00" height="7.80" fill="#fff" stroke="#000" stroke-width="1.0"/>
<rect x="324.10" y="268.00" width="7.00" height="8.40" fill="#ccfbcc" stroke="#000" stroke-width="1.0"/>
<rect x="324.10" y="281.30" width="7.00" height="8.60" fill="#1e8c1e" stroke="#000" stroke-width="1.0"/>
<text x="333.80" y="261.00" font-size="8.4" fill="#000" color="#000" textLength="61.10" lengthAdjust="spacingAndGlyphs" stroke="#000" stroke-width="0.3">Control Myoblast</text>
<text x="333.80" y="275.00" font-size="8.5" fill="#000" color="#000" textLength="16.70" lengthAdjust="spacingAndGlyphs" stroke="#000" stroke-width="0.3">DM1</text>
<text x="351.30" y="276.80" font-size="6.0" fill="#000" color="#000" textLength="26.60" lengthAdjust="spacingAndGlyphs" stroke="currentColor" stroke-width="0.12">3600 cTG</text>
<text x="333.80" y="289.00" font-size="8.5" fill="#000" color="#000" textLength="16.70" lengthAdjust="spacingAndGlyphs" stroke="#000" stroke-width="0.3">DM1</text>
<text x="351.30" y="290.80" font-size="6.0" fill="#000" color="#000" textLength="26.60" lengthAdjust="spacingAndGlyphs" stroke="currentColor" stroke-width="0.12">3300 cTG</text>
<text x="0.00" y="0.00" transform="translate(206.00,397.80) rotate(-90)" font-size="8.4" font-weight="bold" fill="#000" color="#000" textLength="104.80" lengthAdjust="spacingAndGlyphs" stroke="currentColor" stroke-width="0.25">MBNL1 mRNA Expression</text>
<text x="0.00" y="0.00" transform="translate(216.20,415.20) rotate(-90)" font-size="8.5" fill="#000" color="#000" textLength="140.50" lengthAdjust="spacingAndGlyphs" xml:space="preserve" stroke="currentColor" stroke-width="0.25">(Normalized to GAPDH  and  HPRT1)</text>
<text x="0.00" y="0.00" transform="translate(246.40,409.80) rotate(-45)" font-size="8.0" font-weight="bold" fill="#000" color="#000" text-anchor="end" stroke="currentColor" stroke-width="0.25">Control 1</text>
<text x="0.00" y="0.00" transform="translate(256.95,409.80) rotate(-45)" font-size="8.0" font-weight="bold" fill="#000" color="#000" text-anchor="end" stroke="currentColor" stroke-width="0.25">Control 2</text>
<text x="0.00" y="0.00" transform="translate(267.45,409.80) rotate(-45)" font-size="8.0" font-weight="bold" fill="#000" color="#000" text-anchor="end" stroke="currentColor" stroke-width="0.25">Control 3</text>
<text x="0.00" y="0.00" transform="translate(278.20,409.80) rotate(-45)" font-size="8.0" font-weight="bold" fill="#000" color="#000" text-anchor="end" stroke="currentColor" stroke-width="0.25">DMSO</text>
<text x="0.00" y="0.00" transform="translate(288.75,409.80) rotate(-45)" font-size="8.0" font-weight="bold" fill="#000" color="#000" text-anchor="end" stroke="currentColor" stroke-width="0.25">0.1uM</text>
<text x="0.00" y="0.00" transform="translate(299.30,409.80) rotate(-45)" font-size="8.0" font-weight="bold" fill="#000" color="#000" text-anchor="end" stroke="currentColor" stroke-width="0.25">1uM</text>
<text x="0.00" y="0.00" transform="translate(309.90,409.80) rotate(-45)" font-size="8.0" font-weight="bold" fill="#000" color="#000" text-anchor="end" stroke="currentColor" stroke-width="0.25">10uM</text>
<text x="0.00" y="0.00" transform="translate(327.30,409.80) rotate(-45)" font-size="8.0" font-weight="bold" fill="#000" color="#000" text-anchor="end" stroke="currentColor" stroke-width="0.25">Control 1</text>
<text x="0.00" y="0.00" transform="translate(338.15,409.80) rotate(-45)" font-size="8.0" font-weight="bold" fill="#000" color="#000" text-anchor="end" stroke="currentColor" stroke-width="0.25">Control 2</text>
<text x="0.00" y="0.00" transform="translate(348.60,409.80) rotate(-45)" font-size="8.0" font-weight="bold" fill="#000" color="#000" text-anchor="end" stroke="currentColor" stroke-width="0.25">Control 3</text>
<text x="0.00" y="0.00" transform="translate(359.30,409.80) rotate(-45)" font-size="8.0" font-weight="bold" fill="#000" color="#000" text-anchor="end" stroke="currentColor" stroke-width="0.25">DMSO</text>
<text x="0.00" y="0.00" transform="translate(370.05,409.80) rotate(-45)" font-size="8.0" font-weight="bold" fill="#000" color="#000" text-anchor="end" stroke="currentColor" stroke-width="0.25">0.1uM</text>
<text x="0.00" y="0.00" transform="translate(380.55,409.80) rotate(-45)" font-size="8.0" font-weight="bold" fill="#000" color="#000" text-anchor="end" stroke="currentColor" stroke-width="0.25">1uM</text>
<text x="0.00" y="0.00" transform="translate(391.15,409.80) rotate(-45)" font-size="8.0" font-weight="bold" fill="#000" color="#000" text-anchor="end" stroke="currentColor" stroke-width="0.25">10uM</text>
</svg>
</body></html>
